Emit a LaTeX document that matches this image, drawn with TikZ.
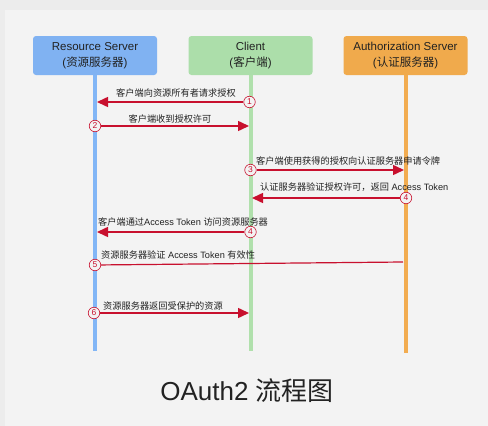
\documentclass[tikz,border=0pt]{standalone}
\usepackage{fontspec}
\setmainfont{Liberation Sans}
\newfontfamily\zh{Noto Sans CJK SC}
\usetikzlibrary{arrows.meta}
\definecolor{bgout}{RGB}{236,236,236}
\definecolor{bgin}{RGB}{243,243,243}
\definecolor{rsblue}{RGB}{128,178,242}
\definecolor{clgreen}{RGB}{172,222,170}
\definecolor{asorange}{RGB}{240,170,76}
\definecolor{rsline}{RGB}{130,182,246}
\definecolor{clline}{RGB}{176,224,172}
\definecolor{asline}{RGB}{242,172,80}
\definecolor{arrred}{RGB}{200,16,46}
\definecolor{txt}{RGB}{34,34,34}
\tikzset{
  actor/.style={rounded corners=3pt, minimum width=124pt, minimum height=39pt, inner sep=0pt,
    align=center, text=txt, font=\fontsize{11.5pt}{16pt}\selectfont},
  life/.style={line width=4pt},
  msg/.style={draw=arrred, line width=1.5pt, -{Triangle[length=11pt,width=10pt]}},
  num/.style={circle, draw=arrred, line width=0.6pt, fill=bgin, inner sep=0pt, minimum size=11.5pt,
    text=arrred, font=\fontsize{8.5pt}{9pt}\selectfont},
  lbl/.style={text=txt, inner sep=0pt, font=\fontsize{9.2pt}{11pt}\selectfont},
}
\begin{document}
\begin{tikzpicture}[x=1pt,y=-1pt]
\useasboundingbox (0,0) rectangle (488,426);
\fill[bgout] (0,0) rectangle (488,426);
\fill[bgin] (5,10) rectangle (488,426);

% actors
\node[actor, fill=rsblue] (rs) at (95,55.5) {Resource Server\\({\zh 资源服务器})};
\node[actor, fill=clgreen] (cl) at (250.5,55.5) {Client\\({\zh 客户端})};
\node[actor, fill=asorange] (as) at (405.5,55.5) {Authorization Server\\({\zh 认证服务器})};

% lifelines
\coordinate (rsend) at (95,351);
\coordinate (clend) at (250.5,351);
\coordinate (asend) at (405.5,353);
\draw[life, rsline] (rs.south) -- (rsend);
\draw[life, clline] (cl.south) -- (clend);
\draw[life, asline] (as.south) -- (asend);

% message 1
\node[num] (n1) at (249.5,102) {1};
\coordinate (t1) at (97,102);
\draw[msg] (n1) -- (t1);
\node[lbl] (l1) at (176,93) {\zh 客户端向资源所有者请求授权};

% message 2
\node[num] (n2) at (95,126) {2};
\coordinate (t2) at (249,126);
\draw[msg] (n2) -- (t2);
\node[lbl] (l2) at (170,118.5) {\zh 客户端收到授权许可};

% message 3
\node[num] (n3) at (250.5,170) {3};
\coordinate (t3) at (404,170);
\draw[msg] (n3) -- (t3);
\node[lbl, anchor=west] (l3) at (256,161) {\zh 客户端使用获得的授权向认证服务器申请令牌};

% message 4
\node[num] (n4) at (406,198) {4};
\coordinate (t4) at (252,198);
\draw[msg] (n4) -- (t4);
\node[lbl, anchor=west] (l4) at (260,187) {{\zh 认证服务器验证授权许可，返回} Access Token};

% message 4b
\node[num] (n4b) at (250.5,232) {4};
\coordinate (t4b) at (97,232);
\draw[msg] (n4b) -- (t4b);
\node[lbl, anchor=west] (l4b) at (98,222) {{\zh 客户端通过}Access Token {\zh 访问资源服务器}};

% message 5
\node[num] (n5) at (95,265) {5};
\coordinate (t5) at (403,262);
\draw[arrred, line width=1.2pt] (n5) -- (t5);
\node[lbl, anchor=west] (l5) at (101,255) {{\zh 资源服务器验证} Access Token {\zh 有效性}};

% message 6
\node[num] (n6) at (94,313) {6};
\coordinate (t6) at (249,313);
\draw[msg] (n6) -- (t6);
\node[lbl, anchor=west] (l6) at (103,306) {\zh 资源服务器返回受保护的资源};

% title
\node[text=txt, font=\fontsize{26pt}{30pt}\selectfont] (title) at (247,391) {OAuth2 {\zh 流程图}};
\end{tikzpicture}
\end{document}
